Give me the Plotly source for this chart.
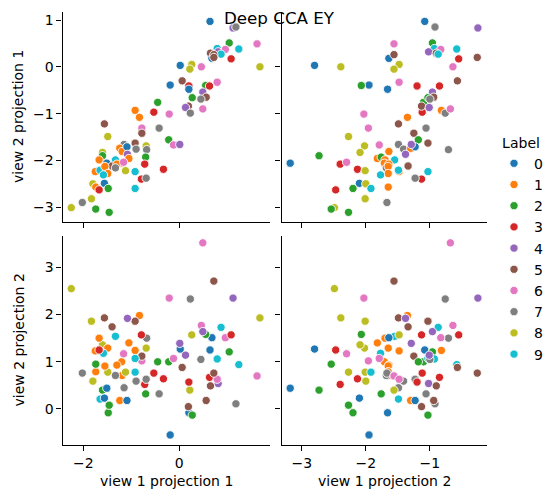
import plotly.graph_objects as go

# ---------------- data ----------------
labels = [0, 2, 3, 1, 1, 6, 5, 6, 5, 7,
          8, 2, 7, 5, 8, 7, 7, 8, 2, 1,
          1, 0, 4, 1, 2, 3, 3, 1, 0, 9,
          1, 5, 1, 7, 6, 8, 9, 1, 9, 1,
          1, 9, 3, 7, 0, 8, 1, 3, 2, 9,
          8, 7, 8, 2, 2, 0, 4, 7, 2, 6,
          9, 4, 9, 6, 5, 9, 0, 3, 0, 8,
          8, 6, 8, 5, 3, 0, 2, 3, 6, 4,
          2, 5, 7, 5, 4, 7, 6, 6, 4, 5,
          5]

view1_proj1 = [-0.19, -0.45, -0.53, -0.92, -0.83, -0.21, -1.56, -0.78, -0.78, -0.42,
               -1.49, -0.22, -1.15, -0.92, -0.69, -0.68, -0.90, -1.60, -1.60, -1.24,
               -1.19, -1.09, -1.08, -1.05, -0.70, -0.72, -0.33, -1.67, -1.51, -1.33,
               -1.20, -1.40, -1.30, -1.33, -1.16, -1.12, -0.92, -1.75, -1.65, -1.55,
               -1.49, -1.58, -0.79, -0.69, -1.56, -1.80, -1.74, -1.67, -1.48, -0.92,
               -1.83, -2.02, -2.25, -1.74, -1.46, 0.64, 1.12, 1.18, 1.04, 1.62,
               0.79, 0.81, 1.24, 0.96, 0.65, 0.87, 0.68, 1.08, 0.02, 0.26,
               0.22, 0.46, 1.68, 0.06, 0.20, 0.20, 0.55, 0.63, 0.79, 0.49,
               0.27, 0.56, 0.45, 0.19, 0.13, 0.23, 0.49, -0.12, 0.01, 0.72,
               0.72]

view2_proj1 = [-0.39, -0.76, -0.97, -0.93, -1.08, -1.01, -1.22, -1.31, -1.42, -1.31,
               -1.49, -1.56, -1.66, -1.63, -1.69, -1.77, -1.76, -1.83, -1.90, -1.74,
               -1.81, -1.71, -1.87, -1.96, -1.93, -2.08, -2.19, -1.99, -2.06, -1.99,
               -2.06, -2.12, -2.08, -2.16, -2.04, -2.22, -2.24, -2.24, -2.21, -2.13,
               -2.28, -2.31, -2.40, -2.38, -2.49, -2.50, -2.57, -2.63, -2.60, -2.60,
               -2.82, -2.90, -3.01, -3.04, -3.11, 0.97, 0.83, 0.85, 0.51, 0.49,
               0.39, 0.32, 0.38, 0.37, 0.29, 0.27, 0.18, 0.17, 0.03, 0.05,
               -0.05, 0.00, 0.00, -0.30, -0.41, -0.48, -0.40, -0.41, -0.33, -0.54,
               -0.66, -0.65, -0.69, -0.84, -0.87, -0.99, -0.90, -1.67, -1.66, 0.26,
               0.20]

view1_proj2 = [-1.95, -1.10, -1.12, -0.82, -1.35, -2.03, -1.49, -1.96, -1.25, -1.06,
               -2.27, -1.18, -1.49, -1.03, -2.02, -0.71, -1.41, -2.09, -2.73, -1.30,
               -1.64, -1.23, -1.38, -1.82, -1.76, -2.40, -2.13, -1.70, -3.18, -1.55,
               -1.71, -1.34, -1.64, -1.68, -2.30, -2.01, -1.03, -1.48, -1.49, -1.65,
               -1.65, -1.77, -1.13, -1.23, -2.10, -2.00, -1.65, -2.47, -2.20, -1.92,
               -2.01, -1.67, -2.49, -2.54, -2.27, -1.08, -0.25, -0.92, -0.96, -1.56,
               -0.93, -1.02, -0.58, -0.83, -0.90, -0.87, -1.64, -0.55, -2.80, -1.48,
               -1.56, -0.64, -2.39, -0.57, -1.20, -1.66, -2.07, -0.85, -1.48, -0.96,
               -1.03, -0.94, -1.00, -1.13, -1.01, -0.76, -0.68, -1.79, -1.29, -1.56,
               -0.26]

view2_proj2 = [-0.55, 1.00, 0.76, 1.24, 1.98, 2.35, 1.93, 1.02, 1.12, 0.32,
               0.78, 1.00, 0.45, 1.86, 1.29, 1.50, 0.59, 1.36, 0.40, 0.18,
               0.71, 0.18, 1.92, 1.40, 0.32, 0.52, 0.64, 1.50, 0.44, 1.54,
               1.00, 1.74, 0.93, 0.71, 1.17, 0.78, 1.07, 1.23, 0.21, 0.91,
               1.29, 1.18, 1.57, 0.63, 0.23, 0.59, 0.79, 1.25, -0.08, 0.78,
               1.86, 0.76, 2.55, 0.95, 0.08, 1.25, 2.35, 0.11, 1.21, 0.70,
               1.06, 0.54, 0.94, 1.51, 0.49, 1.73, 1.51, 1.57, 1.27, 1.57,
               0.40, 1.77, 1.93, 0.88, 0.57, -0.08, 1.58, 0.67, 0.63, 1.64,
               -0.13, 0.18, 1.05, 0.05, 1.14, 2.33, 3.52, 1.07, 1.39, 2.71,
               0.76]

legend_labels = list(range(10))
x1_ticks = [-2, 0]
x2_ticks = [-3, -2, -1]
y1_ticks = [-3, -2, -1, 0, 1]
y2_ticks = [0, 1, 2, 3]

# ---------------- style ----------------
palette = ['#1f77b4', '#ff7f0e', '#2ca02c', '#d62728', '#9467bd',
           '#8c564b', '#e377c2', '#7f7f7f', '#bcbd22', '#17becf']
colors = [palette[l] for l in labels]
W, H = 558, 500
FONT = "DejaVu Sans"
MS = 8.3

def px_x(p):
    return p / W

def px_y(p):
    return 1 - p / H

domL = [px_x(62.5), px_x(270)]
domR = [px_x(281.5), px_x(487)]
domT = [px_y(221.7), px_y(12)]
domB = [px_y(445), px_y(236)]

fig = go.Figure()

panels = [
    (view1_proj1, view2_proj1, 'x', 'y'),
    (view1_proj2, view2_proj1, 'x2', 'y2'),
    (view1_proj1, view2_proj2, 'x3', 'y3'),
    (view1_proj2, view2_proj2, 'x4', 'y4'),
]
for xs, ys, xa, ya in panels:
    fig.add_trace(go.Scatter(
        x=xs, y=ys, mode='markers', xaxis=xa, yaxis=ya, showlegend=False,
        marker=dict(size=MS, color=colors, line=dict(color='white', width=0.9)),
        hoverinfo='skip'))

for lab in legend_labels:
    fig.add_trace(go.Scatter(
        x=[None], y=[None], mode='markers', name=str(lab), xaxis='x', yaxis='y',
        marker=dict(size=MS, color=palette[lab], line=dict(color='white', width=0.9))))

common = dict(showgrid=False, zeroline=False, showline=True, linecolor='black',
              linewidth=1.1, ticks='outside', ticklen=5, tickwidth=1.1,
              tickcolor='black', tickfont=dict(family=FONT, size=14, color='black'))

xr1 = [-2.433, 1.89]
xr2 = [-3.316, -0.108]
yr1 = [-3.31, 1.171]
yr2 = [-0.763, 3.665]

fig.update_layout(
    width=W, height=H, margin=dict(l=0, r=0, t=0, b=0),
    paper_bgcolor='white', plot_bgcolor='white',
    font=dict(family=FONT, size=14, color='black'),
    xaxis=dict(domain=domL, range=xr1, anchor='y', tickvals=x1_ticks, showticklabels=False, **common),
    yaxis=dict(domain=domT, range=yr1, anchor='x', tickvals=y1_ticks, **common),
    xaxis2=dict(domain=domR, range=xr2, anchor='y2', tickvals=x2_ticks, showticklabels=False, **common),
    yaxis2=dict(domain=domT, range=yr1, anchor='x2', tickvals=y1_ticks, showticklabels=False, **common),
    xaxis3=dict(domain=domL, range=xr1, anchor='y3', tickvals=x1_ticks, **common),
    yaxis3=dict(domain=domB, range=yr2, anchor='x3', tickvals=y2_ticks, **common),
    xaxis4=dict(domain=domR, range=xr2, anchor='y4', tickvals=x2_ticks, **common),
    yaxis4=dict(domain=domB, range=yr2, anchor='x4', tickvals=y2_ticks, showticklabels=False, **common),
    title=dict(text='Deep CCA EY', x=0.5, xanchor='center', y=px_y(18), yanchor='middle',
               font=dict(family=FONT, size=16.7, color='black')),
    legend=dict(title=dict(text='Label', side='top center', font=dict(family=FONT, size=14)),
                x=px_x(494), xanchor='left', y=0.5, yanchor='middle',
                bgcolor='rgba(0,0,0,0)', borderwidth=0, tracegroupgap=0,
                font=dict(family=FONT, size=14, color='black')),
)

ann = [
    dict(text='view 1 projection 1', x=px_x(166), y=px_y(481)),
    dict(text='view 1 projection 2', x=px_x(384), y=px_y(481)),
    dict(text='view 2 projection 1', x=px_x(18), y=px_y(117), textangle=-90),
    dict(text='view 2 projection 2', x=px_x(18), y=px_y(340.5), textangle=-90),
]
for a in ann:
    fig.add_annotation(xref='paper', yref='paper', showarrow=False,
                       xanchor='center', yanchor='middle',
                       font=dict(family=FONT, size=14, color='black'), **a)

fig.write_html("out.html")
